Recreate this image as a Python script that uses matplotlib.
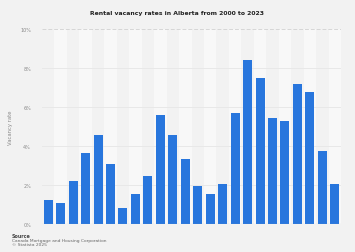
import matplotlib.pyplot as plt
import numpy as np

# Данные: доля свободного арендного жилья в Альберте
years = [str(y) for y in range(2000, 2024)]
rates = [1.24, 1.08, 2.23, 3.66, 4.57, 3.08, 0.82, 1.55, 2.47, 5.57, 4.57, 3.35,
         1.96, 1.55, 2.06, 5.67, 8.4, 7.47, 5.46, 5.26, 7.16, 6.75, 3.76, 2.06]
yticks = [0, 2, 4, 6, 8, 10]
ytick_labels = ['0%', '2%', '4%', '6%', '8%', '10%']

bg = '#f2f2f2'
fig = plt.figure(figsize=(3.55, 2.53), dpi=100, facecolor=bg)
ax = fig.add_axes([42 / 355, 1 - 225 / 253, 299 / 355, 195 / 253])
ax.set_facecolor(bg)

x = np.arange(len(years))
# светлые полосы за каждым вторым столбцом
for i in x:
    if i % 2 == 1:
        ax.axvspan(i - 0.5, i + 0.5, color='#f8f8f8', zorder=0, lw=0)

for t in yticks[1:]:
    ls = (0, (4, 2)) if t == 10 else '-'
    col = '#d6d6d6' if t == 10 else '#e8e8e8'
    ax.axhline(t, color=col, lw=0.7, ls=ls, zorder=1)

ax.bar(x, rates, width=0.72, color='#2876dd', zorder=2)
ax.axhline(0, color='#b8b8b8', lw=0.8, zorder=3)

ax.set_xlim(-0.5, len(years) - 0.5)
ax.set_ylim(0, 10)
ax.set_xticks([])
ax.set_yticks(yticks)
ax.set_yticklabels(ytick_labels, fontsize=3.5, color='#888888')
ax.tick_params(axis='y', length=0, pad=8)
for s in ax.spines.values():
    s.set_visible(False)
ax.set_ylabel('Vacancy rate', fontsize=3.8, color='#888888', labelpad=5)

fig.text(177 / 355, 1 - 13 / 253, 'Rental vacancy rates in Alberta from 2000 to 2023',
         ha='center', va='center', fontsize=4.4, fontweight='bold', color='#222222')
fig.text(12 / 355, 1 - 236 / 253, 'Source', fontsize=3.4, fontweight='bold',
         color='#444444', va='center')
fig.text(12 / 355, 1 - 241 / 253, 'Canada Mortgage and Housing Corporation',
         fontsize=3.2, color='#666666', va='center')
fig.text(12 / 355, 1 - 245.5 / 253, '© Statista 2025', fontsize=3.2,
         color='#666666', va='center')

fig.savefig('out.png', dpi=100, facecolor=bg)
